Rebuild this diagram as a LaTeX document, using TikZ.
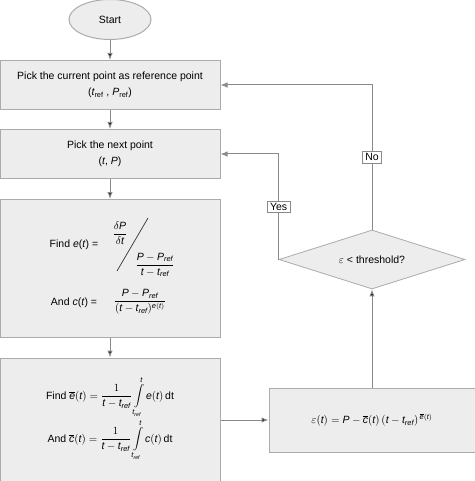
\documentclass[tikz,border=0pt]{standalone}
\usepackage{amsmath,amssymb}
\usepackage{fontspec}
\setmainfont{Liberation Sans}
\usepackage{tikz}
\usetikzlibrary{shapes.geometric,arrows.meta}
\usepackage{xcolor}
\definecolor{boxfill}{HTML}{EDEDEE}
\definecolor{boxline}{HTML}{ABABAB}
\definecolor{arrline}{HTML}{8A8A8A}
\newcommand{\iv}[1]{\textit{#1}}

\begin{document}
\begin{tikzpicture} [x=1pt, y=-1pt, font=\fontsize{10.5}{16}\selectfont
  , proc/.style={draw=boxline, fill=boxfill, line width=1pt, minimum width=220pt, inner sep=0pt}
  , term/.style={ellipse, draw=boxline, fill=boxfill, line width=1pt, minimum width=82pt, minimum height=40pt}
  , decis/.style={diamond, draw=boxline, fill=boxfill, line width=0.8pt, aspect=3.15, minimum width=186pt, minimum height=59pt, inner sep=0pt}
  , lbl/.style={draw=arrline, fill=white, inner xsep=3pt, inner ysep=2pt, line width=0.6pt}
  , flow/.style={-{Latex[length=7pt,width=5.5pt]}, draw=arrline, line width=1pt}
]
\useasboundingbox (0,0) rectangle (474,481);
%boxes on the left
\node[term] (start) at (110,19.5) {Start};
\node[proc, minimum height=49pt, align=center] (ref) at (110,85)
  {Pick the current point as reference point\\($\iv{t}_{\text{ref}}$ , $\iv{P}_{\text{ref}}$)};
\node[proc, minimum height=49pt, align=center] (next) at (110,154)
  {Pick the next point\\(\iv{t}, \iv{P})};
\node[proc, minimum height=138pt] (find) at (110,268.5) {};
\node[proc, minimum height=124pt] (avg) at (110,420) {};
%right side
\node[proc, minimum width=206pt, minimum height=64pt] (eps) at (372,420)
  {$\varepsilon(\iv{t}) = \iv{P} - \overline{\iv{c}}(\iv{t})\,(\iv{t}-\iv{t}_{\iv{ref}})^{\,\overline{\iv{e}}(\iv{t})}$};
\node[decis] (dec) at (372,259.5) {$\varepsilon$ < threshold?};
%contents of find box
\node (finde) at (74,245) {Find \iv{e}(\iv{t}) =};
\node (dslope) at (120,233) {$\dfrac{\delta \iv{P}}{\delta \iv{t}}$};
\draw[black!80, line width=0.7pt] (117,271) -- (148,218);
\node (pslope) at (155,265) {$\dfrac{\iv{P}-\iv{P}_{\iv{ref}}}{\iv{t}-\iv{t}_{\iv{ref}}}$};
\node (andc) at (74,303) {And \iv{c}(\iv{t}) =};
\node (cfrac) at (140,302) {$\dfrac{\iv{P}-\iv{P}_{\iv{ref}}}{(\iv{t}-\iv{t}_{\iv{ref}})^{\iv{e}(\iv{t})}}$};
%contents of avg box
\node (avge) at (110,397) {Find $\overline{\iv{e}}(\iv{t}) = \dfrac{1}{\iv{t}-\iv{t}_{\iv{ref}}}\displaystyle\int\limits_{\iv{t}_{\iv{ref}}}^{\iv{t}}\iv{e}(\iv{t})\,\text{dt}$};
\node (avgc) at (110,440) {And $\overline{\iv{c}}(\iv{t}) = \dfrac{1}{\iv{t}-\iv{t}_{\iv{ref}}}\displaystyle\int\limits_{\iv{t}_{\iv{ref}}}^{\iv{t}}\iv{c}(\iv{t})\,\text{dt}$};
%arrows
\path[flow]
(start) edge (ref)
(ref) edge (next)
(next) edge (find)
(find) edge (avg)
(avg) edge (eps)
(eps) edge (dec)
;
\draw[flow] (dec.north) |- node[lbl, pos=0.25]{No} (ref.east);
\draw[flow] (dec.west) |- node[lbl, pos=0.25]{Yes} (next.east);
\end{tikzpicture}
\end{document}
